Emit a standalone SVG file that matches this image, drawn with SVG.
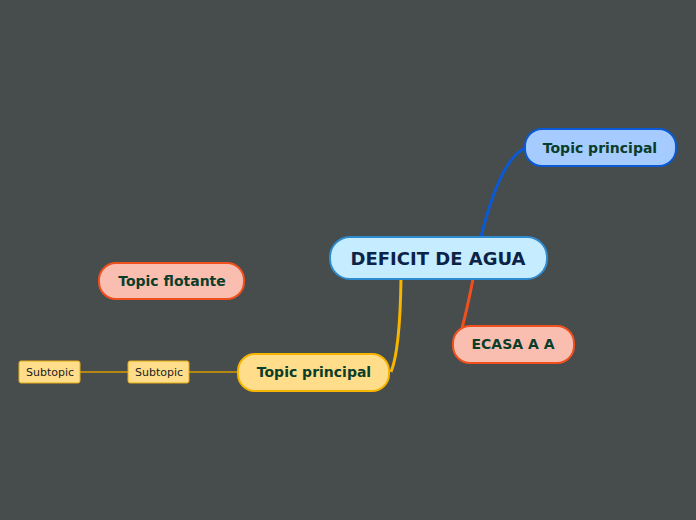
<svg xmlns="http://www.w3.org/2000/svg" width="696" height="520" viewBox="0 0 696 520">
<style>
text{font-family:"DejaVu Sans",sans-serif;font-weight:bold;text-anchor:middle;dominant-baseline:central;fill:#0b3d2b}
.sub{font-weight:normal;font-size:11px;fill:#222}
.c{fill:none;stroke-width:3}
</style>
<rect width="696" height="520" fill="#474c4c"/>
<g id="connectors">
<path class="c" d="M481,237 Q500,160 525,148" stroke="#0a5ad6"/>
<path class="c" d="M473,279 Q467,310 462,328" stroke="#f04f1e"/>
<path class="c" d="M401,279 Q400,350 391,372" stroke="#f7b500"/>
<path d="M189,372 H238 M80,372 H128" stroke="#d99a00" stroke-width="1.3" fill="none"/>
</g>
<g id="root"><rect x="330" y="237" width="217" height="42" rx="20" fill="#c5ecff" stroke="#2f8bcf" stroke-width="2"/><text x="438" y="258" font-size="18" fill="#0b2347" style="fill:#0b2347">DEFICIT DE AGUA</text></g>
<g id="t1"><rect x="525" y="129" width="151" height="37" rx="17" fill="#a6cbff" stroke="#0a5ad6" stroke-width="2"/><text x="600" y="148" font-size="14">Topic principal</text></g>
<g id="t2"><rect x="453" y="326" width="121" height="37" rx="17" fill="#f9beb0" stroke="#f04f1e" stroke-width="2"/><text x="513" y="344" font-size="14">ECASA A A</text></g>
<g id="t3"><rect x="238" y="354" width="151" height="37" rx="17" fill="#ffdd8a" stroke="#f7b500" stroke-width="2"/><text x="314" y="372" font-size="14">Topic principal</text></g>
<g id="float"><rect x="99" y="263" width="145" height="36" rx="17" fill="#f9beb0" stroke="#f04f1e" stroke-width="2"/><text x="172" y="281" font-size="14">Topic flotante</text></g>
<g id="s1"><rect x="128" y="361" width="61" height="22" rx="2" fill="#ffdd8a" stroke="#e8aa10"/><text class="sub" x="159" y="372">Subtopic</text></g>
<g id="s2"><rect x="19" y="361" width="61" height="22" rx="2" fill="#ffdd8a" stroke="#e8aa10"/><text class="sub" x="50" y="372">Subtopic</text></g>
</svg>
